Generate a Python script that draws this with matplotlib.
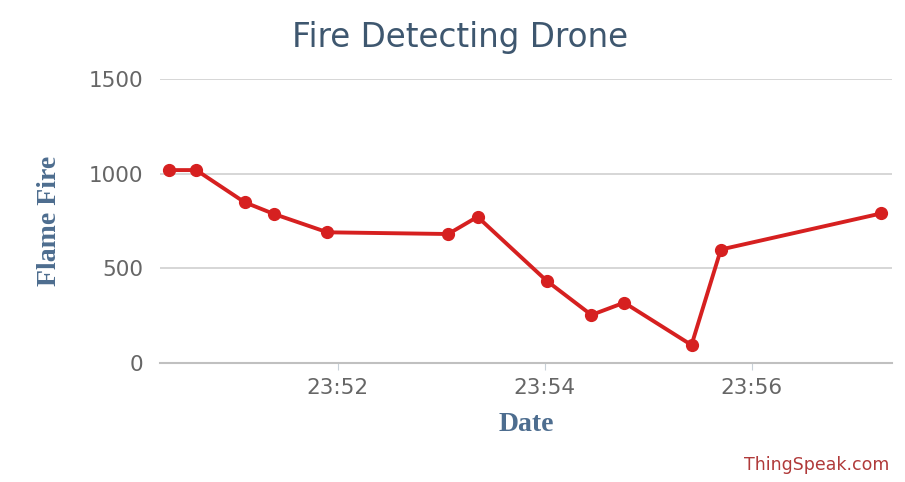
import matplotlib
matplotlib.use("Agg")
import matplotlib.pyplot as plt
import matplotlib.dates as mdates
from datetime import datetime

# readings of the flame sensor
times = ["23:50:22", "23:50:38", "23:51:06", "23:51:23", "23:51:54",
         "23:53:04", "23:53:21", "23:54:01", "23:54:27", "23:54:46",
         "23:55:25", "23:55:42", "23:57:15"]
flame = [1020, 1020, 850, 788, 691, 682, 773, 435, 254, 319, 95, 600, 791]

yticks = [0, 500, 1000, 1500]
x_start = "23:50:17"
x_end = "23:57:21"

day = "2016-01-01 "
t = [datetime.strptime(day + s, "%Y-%m-%d %H:%M:%S") for s in times]

fig = plt.figure(figsize=(9.05, 4.82), dpi=100)
ax = fig.add_axes([160 / 905, 1 - 363 / 482, (891.7 - 160) / 905, (363 - 79.3) / 482])

ax.plot(t, flame, color="#d62020", lw=2.8, marker="o", markersize=8.5,
        markerfacecolor="#d62020", markeredgecolor="#d62020", zorder=3,
        solid_joinstyle="round")

ax.set_xlim(datetime.strptime(day + x_start, "%Y-%m-%d %H:%M:%S"),
            datetime.strptime(day + x_end, "%Y-%m-%d %H:%M:%S"))
ax.set_ylim(0, 1500)
ax.set_yticks(yticks)
ax.yaxis.grid(True, color="#d0d0d0", lw=1.2)
ax.set_axisbelow(True)

ax.xaxis.set_major_locator(mdates.MinuteLocator(byminute=range(0, 60, 2)))
ax.xaxis.set_major_formatter(mdates.DateFormatter("%H:%M"))

for side in ["top", "right", "left"]:
    ax.spines[side].set_visible(False)
ax.spines["bottom"].set_color("#c0c0c0")
ax.spines["bottom"].set_linewidth(1.5)

ax.tick_params(axis="y", length=0, pad=12, labelsize=15.5, labelcolor="#666666")
ax.tick_params(axis="x", length=5, color="#c8d0d8", pad=6, labelsize=15.5,
               labelcolor="#666666")

fig.text(460 / 905, 1 - 37 / 482, "Fire Detecting Drone", ha="center",
         va="center", fontsize=23.5, color="#3e576f")
ax.set_ylabel("Flame Fire", family="Liberation Serif", fontweight="bold",
              fontsize=20, color="#4d6d8f", labelpad=19)
ax.set_xlabel("Date", family="Liberation Serif", fontweight="bold",
              fontsize=20, color="#4d6d8f", labelpad=10)

fig.text(889 / 905, 1 - 465 / 482, "ThingSpeak.com", ha="right", va="center",
         fontsize=12.5, color="#b03a3a")

fig.savefig("out.png", dpi=100, facecolor="white")
